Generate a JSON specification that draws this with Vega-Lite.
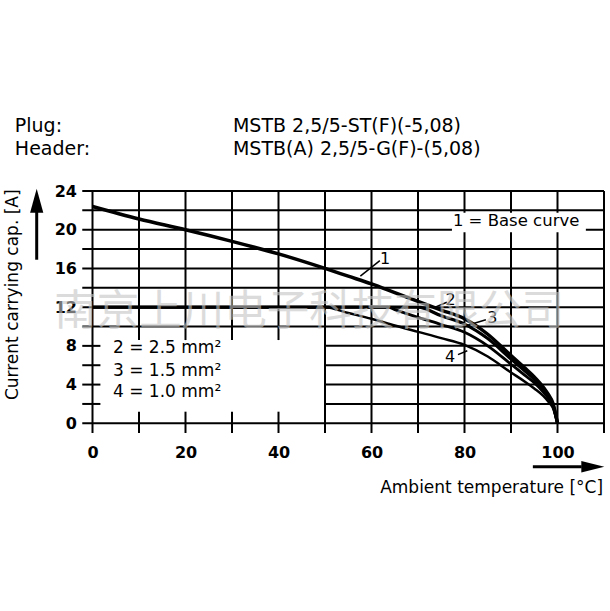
{
  "$schema": "https://vega.github.io/schema/vega-lite/v6.json",
  "autosize": "none",
  "width": 511.5,
  "height": 232.3,
  "padding": {"left": 92.5, "top": 191, "right": 6, "bottom": 187.7},
  "background": "white",
  "config": {"view": {"stroke": null}, "text": {"font": "DejaVu Sans", "color": "black"}},
  "datasets": {
    "grid": [
      {"x": 0, "x2": 0, "y": -1.0, "y2": 24},
      {"x": 50, "x2": 50, "y": -1.0, "y2": 24},
      {"x": 60, "x2": 60, "y": -1.0, "y2": 24},
      {"x": 70, "x2": 70, "y": -1.0, "y2": 24},
      {"x": 80, "x2": 80, "y": -1.0, "y2": 24},
      {"x": 90, "x2": 90, "y": -1.0, "y2": 24},
      {"x": 100, "x2": 100, "y": -1.0, "y2": 24},
      {"x": 110, "x2": 110, "y": -1.0, "y2": 24},
      {"x": 10, "x2": 10, "y": 8.6, "y2": 24},
      {"x": 20, "x2": 20, "y": 8.6, "y2": 24},
      {"x": 30, "x2": 30, "y": 8.6, "y2": 24},
      {"x": 40, "x2": 40, "y": 8.6, "y2": 24},
      {"x": 10, "x2": 10, "y": -1.0, "y2": 1.2},
      {"x": 20, "x2": 20, "y": -1.0, "y2": 1.2},
      {"x": 30, "x2": 30, "y": -1.0, "y2": 1.2},
      {"x": 40, "x2": 40, "y": -1.0, "y2": 1.2},
      {"x": -2.2, "x2": 110, "y": 0, "y2": 0},
      {"x": -2.2, "x2": 110, "y": 10, "y2": 10},
      {"x": -2.2, "x2": 110, "y": 12, "y2": 12},
      {"x": -2.2, "x2": 110, "y": 14, "y2": 14},
      {"x": -2.2, "x2": 110, "y": 16, "y2": 16},
      {"x": -2.2, "x2": 110, "y": 18, "y2": 18},
      {"x": -2.2, "x2": 110, "y": 20, "y2": 20},
      {"x": -2.2, "x2": 110, "y": 22, "y2": 22},
      {"x": -2.2, "x2": 110, "y": 24, "y2": 24},
      {"x": -2.2, "x2": 1.7, "y": 2, "y2": 2},
      {"x": -2.2, "x2": 1.7, "y": 4, "y2": 4},
      {"x": -2.2, "x2": 1.7, "y": 6, "y2": 6},
      {"x": -2.2, "x2": 1.7, "y": 8, "y2": 8},
      {"x": 50, "x2": 110, "y": 2, "y2": 2},
      {"x": 50, "x2": 110, "y": 4, "y2": 4},
      {"x": 50, "x2": 110, "y": 6, "y2": 6},
      {"x": 50, "x2": 110, "y": 8, "y2": 8}
    ],
    "curves": [
      {"curve": "1", "x": 0, "y": 22.4}, {"curve": "1", "x": 10, "y": 21.1},
      {"curve": "1", "x": 20, "y": 20.0}, {"curve": "1", "x": 30, "y": 18.8},
      {"curve": "1", "x": 40, "y": 17.5}, {"curve": "1", "x": 50, "y": 16.0},
      {"curve": "1", "x": 55, "y": 15.2}, {"curve": "1", "x": 60, "y": 14.4},
      {"curve": "1", "x": 65, "y": 13.5}, {"curve": "1", "x": 70, "y": 12.6},
      {"curve": "1", "x": 75, "y": 11.7}, {"curve": "1", "x": 80, "y": 10.8},
      {"curve": "1", "x": 85, "y": 9.2}, {"curve": "1", "x": 90, "y": 7.0},
      {"curve": "1", "x": 93, "y": 5.7}, {"curve": "1", "x": 95, "y": 4.8},
      {"curve": "1", "x": 97, "y": 3.7}, {"curve": "1", "x": 98, "y": 3.0},
      {"curve": "1", "x": 99, "y": 2.1}, {"curve": "1", "x": 100, "y": 0},
      {"curve": "2", "x": 0, "y": 12}, {"curve": "2", "x": 50, "y": 12},
      {"curve": "2", "x": 70, "y": 12}, {"curve": "2", "x": 75, "y": 11.1},
      {"curve": "2", "x": 80, "y": 10.25}, {"curve": "2", "x": 85, "y": 8.75},
      {"curve": "2", "x": 90, "y": 6.65}, {"curve": "2", "x": 93, "y": 5.4},
      {"curve": "2", "x": 95, "y": 4.55}, {"curve": "2", "x": 97, "y": 3.5},
      {"curve": "2", "x": 98, "y": 2.85}, {"curve": "2", "x": 99, "y": 2.0},
      {"curve": "2", "x": 100, "y": 0},
      {"curve": "3", "x": 0, "y": 12}, {"curve": "3", "x": 50, "y": 12},
      {"curve": "3", "x": 63.5, "y": 12}, {"curve": "3", "x": 65, "y": 11.75},
      {"curve": "3", "x": 70, "y": 10.95}, {"curve": "3", "x": 75, "y": 10.2},
      {"curve": "3", "x": 80, "y": 9.4}, {"curve": "3", "x": 85, "y": 8.0},
      {"curve": "3", "x": 90, "y": 6.1}, {"curve": "3", "x": 93, "y": 4.95},
      {"curve": "3", "x": 95, "y": 4.2}, {"curve": "3", "x": 97, "y": 3.2},
      {"curve": "3", "x": 98, "y": 2.6}, {"curve": "3", "x": 99, "y": 1.85},
      {"curve": "3", "x": 100, "y": 0},
      {"curve": "4", "x": 0, "y": 12}, {"curve": "4", "x": 50, "y": 12},
      {"curve": "4", "x": 55, "y": 11.4}, {"curve": "4", "x": 60, "y": 10.8},
      {"curve": "4", "x": 65, "y": 10.1}, {"curve": "4", "x": 70, "y": 9.45},
      {"curve": "4", "x": 75, "y": 8.8}, {"curve": "4", "x": 80, "y": 8.1},
      {"curve": "4", "x": 85, "y": 6.9}, {"curve": "4", "x": 90, "y": 5.25},
      {"curve": "4", "x": 93, "y": 4.3}, {"curve": "4", "x": 95, "y": 3.6},
      {"curve": "4", "x": 97, "y": 2.8}, {"curve": "4", "x": 98, "y": 2.25},
      {"curve": "4", "x": 99, "y": 1.6}, {"curve": "4", "x": 100, "y": 0}
    ],
    "leaders": [
      {"x": 61.8, "y": 16.8, "x2": 57.6, "y2": 15.2},
      {"x": 76.2, "y": 12.5, "x2": 73.7, "y2": 12.0},
      {"x": 84.6, "y": 10.7, "x2": 80.5, "y2": 10.1},
      {"x": 78.6, "y": 7.1, "x2": 80.6, "y2": 7.5}
    ]
  },
  "encoding": {
    "x": {
      "field": "x",
      "type": "quantitative",
      "scale": {"domain": [0, 110], "nice": false, "zero": false},
      "axis": {
        "values": [0, 20, 40, 60, 80, 100],
        "domain": false, "ticks": false, "tickSize": 0, "grid": false,
        "labelFont": "DejaVu Sans", "labelFontWeight": "bold", "labelFontSize": 16,
        "labelColor": "black", "labelPadding": 21, "labelFlush": false, "title": null
      }
    },
    "y": {
      "field": "y",
      "type": "quantitative",
      "scale": {"domain": [0, 24], "nice": false, "zero": false},
      "axis": {
        "values": [0, 4, 8, 12, 16, 20, 24],
        "domain": false, "ticks": false, "tickSize": 0, "grid": false,
        "labelFont": "DejaVu Sans", "labelFontWeight": "bold", "labelFontSize": 16,
        "labelColor": "black", "labelPadding": 16, "labelFlush": false, "title": null
      }
    }
  },
  "layer": [
    {
      "data": {"name": "grid"},
      "mark": {"type": "rule", "color": "black", "strokeWidth": 2},
      "encoding": {"x2": {"field": "x2"}, "y2": {"field": "y2"}}
    },
    {
      "data": {"values": [{"x": 77.3, "x2": 106.1, "y": 19.75, "y2": 21.75}]},
      "mark": {"type": "rect", "color": "white"},
      "encoding": {"x2": {"field": "x2"}, "y2": {"field": "y2"}}
    },
    {
      "data": {"name": "curves"},
      "mark": {"type": "line", "color": "black", "interpolate": "monotone"},
      "encoding": {
        "detail": {"field": "curve"},
        "strokeWidth": {
          "field": "curve", "type": "nominal",
          "scale": {"domain": ["1", "2", "3", "4"], "range": [3.5, 2.5, 2.5, 2.5]},
          "legend": null
        }
      }
    },
    {
      "data": {"name": "leaders"},
      "mark": {"type": "rule", "color": "black", "strokeWidth": 1.5},
      "encoding": {"x2": {"field": "x2"}, "y2": {"field": "y2"}}
    },
    {
      "data": {"values": [
        {"x": 62.9, "y": 17.0, "label": "1"},
        {"x": 77.0, "y": 12.76, "label": "2"},
        {"x": 86.0, "y": 10.9, "label": "3"},
        {"x": 76.9, "y": 6.9, "label": "4"}
      ]},
      "mark": {"type": "text", "fontSize": 16, "align": "center", "baseline": "middle"},
      "encoding": {"text": {"field": "label"}}
    },
    {
      "data": {"values": [{"x": 77.5, "y": 20.9, "label": "1 = Base curve"}]},
      "mark": {"type": "text", "fontSize": 16.5, "align": "left", "baseline": "middle"},
      "encoding": {"text": {"field": "label"}}
    },
    {
      "data": {"values": [
        {"x": 4.4, "y": 7.76, "label": "2 = 2.5 mm²"},
        {"x": 4.4, "y": 5.45, "label": "3 = 1.5 mm²"},
        {"x": 4.4, "y": 3.27, "label": "4 = 1.0 mm²"}
      ]},
      "mark": {"type": "text", "fontSize": 17, "align": "left", "baseline": "middle"},
      "encoding": {"text": {"field": "label"}}
    },
    {
      "data": {"values": [
        {"x": -16.7, "y": 30.67, "label": "Plug:"},
        {"x": -16.7, "y": 28.29, "label": "Header:"},
        {"x": 30.2, "y": 30.67, "label": "MSTB 2,5/5-ST(F)(-5,08)"},
        {"x": 30.2, "y": 28.29, "label": "MSTB(A) 2,5/5-G(F)-(5,08)"}
      ]},
      "mark": {"type": "text", "fontSize": 19, "align": "left", "baseline": "middle"},
      "encoding": {"text": {"field": "label"}}
    },
    {
      "data": {"values": [{"x": -17.2, "y": 13.28, "label": "Current carrying cap. [A]"}]},
      "mark": {"type": "text", "fontSize": 17, "align": "center", "baseline": "middle", "angle": 270},
      "encoding": {"text": {"field": "label"}}
    },
    {
      "data": {"values": [{"x": 109.8, "y": -6.7, "label": "Ambient temperature [°C]"}]},
      "mark": {"type": "text", "fontSize": 17, "align": "right", "baseline": "middle"},
      "encoding": {"text": {"field": "label"}}
    },
    {
      "data": {"values": [{"x": -12.0, "y": 16.9, "x2": -12.0, "y2": 22.2}, {"x": 94.7, "y": -4.5, "x2": 105.2, "y2": -4.5}]},
      "mark": {"type": "rule", "color": "black", "strokeWidth": 3},
      "encoding": {"x2": {"field": "x2"}, "y2": {"field": "y2"}}
    },
    {
      "data": {"values": [{"x": -12.0, "y": 23.0}]},
      "mark": {"type": "point", "shape": "M0,-1L0.55,1L-0.55,1Z", "size": 576, "filled": true, "color": "black", "opacity": 1}
    },
    {
      "data": {"values": [{"x": 107.6, "y": -4.5}]},
      "mark": {"type": "point", "shape": "M1,0L-1,0.5L-1,-0.5Z", "size": 529, "filled": true, "color": "black", "opacity": 1}
    },
    {
      "data": {"values": [{"x": 46.6, "y": 11.5, "label": "南京上川电子科技有限公司"}]},
      "mark": {"type": "text", "font": "Noto Sans CJK SC", "fontSize": 42.5, "align": "center", "baseline": "middle", "color": "#c4c4c4", "opacity": 0.6},
      "encoding": {"text": {"field": "label"}}
    }
  ]
}
